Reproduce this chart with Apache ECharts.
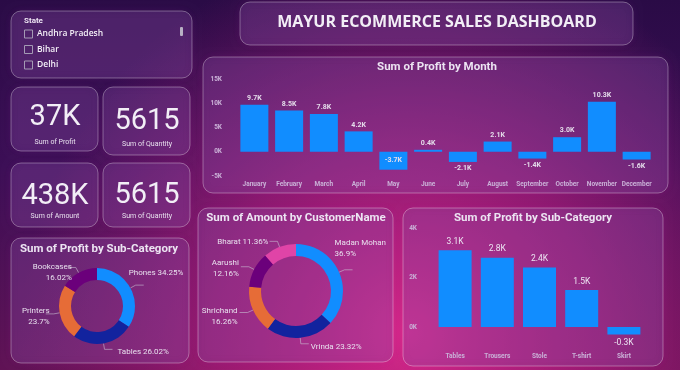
<!DOCTYPE html>
<html><head><meta charset="utf-8">
<script src="https://cdn.jsdelivr.net/npm/echarts@6/dist/echarts.min.js"></script>
<style>html,body{margin:0;padding:0;background:#2a0c46;}#c{width:680px;height:370px;}</style>
</head><body><div id="c"></div>
<script>
// ---- data ----
const months = ['January','February','March','April','May','June','July','August','September','October','November','December'];
const monthProfitK = [9.7, 8.5, 7.8, 4.2, -3.7, 0.4, -2.1, 2.1, -1.4, 3.0, 10.3, -1.6];
const monthAxisK = {min: -5, max: 15, interval: 5};
const subCats = ['Tables','Trousers','Stole','T-shirt','Skirt'];
const subCatProfitK = [3.1, 2.8, 2.4, 1.5, -0.3];
const subCatAxisK = {min: 0, max: 4, interval: 2};
const donutCats = ['Phones','Tables','Printers','Bookcases'];
const donutShares = [34.25, 26.02, 23.7, 16.02];
const customers = ['Madan Mohan','Vrinda','Shrichand','Aarushi','Bharat'];
const customerShares = [36.9, 23.32, 16.26, 12.16, 11.36];
const states = ['Andhra Pradesh','Bihar','Delhi'];
const kpiValues = ['37K','5615','438K','5615'];
const kpiLabels = ['Sum of Profit','Sum of Quantity','Sum of Amount','Sum of Quantity'];

// ---- styling ----
const palette = ['#118DFF','#12239E','#E66C37','#6B007B','#E044A7'];
const txt = '#ece4f2';
const FF = 'Roboto, "Noto Sans", sans-serif';
const panelStyle = {fill:'rgba(130,90,165,0.26)', stroke:'rgba(255,255,255,0.32)', lineWidth:1,
  shadowBlur:8, shadowColor:'rgba(200,60,200,0.35)'};
// label nudges (px) to mimic the reference's leader-line placement
const pie1Nudge = [[-20,-12],[0,3],[9,3],[9,5]];
const pie2Nudge = [[-23,-21],[-3,3],[3,3.5],[3,1.5],[4,1]];

function panel(x,y,w,h,r){ return {type:'rect', shape:{x:x,y:y,width:w,height:h,r:r||10}, style:Object.assign({},panelStyle), z:1}; }
function text(t,x,y,font,align,fill){ return {type:'text', z:5, style:{text:t,x:x,y:y,font:font,textAlign:align||'center',textVerticalAlign:'middle',fill:fill||txt}}; }

const chart = echarts.init(document.getElementById('c'), null, {renderer:'canvas'});

const graphics = [
  {type:'rect', z:-10, shape:{x:0,y:0,width:680,height:370}, style:{fill:new echarts.graphic.LinearGradient(0,0,0,1,[
    {offset:0,color:'#2a0b46'},{offset:0.45,color:'#3c0e56'},{offset:1,color:'#601255'}])}},
  {type:'rect', z:-9, shape:{x:0,y:0,width:680,height:370}, style:{fill:new echarts.graphic.RadialGradient(0.6,0.9,1.05,[
    {offset:0,color:'rgba(220,40,140,0.95)'},{offset:0.5,color:'rgba(190,30,128,0.6)'},{offset:1,color:'rgba(170,30,120,0)'}])}},
  panel(11,11,181,67),
  panel(240,2,393,43),
  panel(11,87,87,64), panel(103,87,87,68),
  panel(11,163,87,64), panel(103,163,87,64),
  panel(11,238,178,125),
  panel(203,57,465,136),
  panel(198,208,195,154),
  panel(403,208,260,158),
  text('State',24,21,'bold 8px '+FF,'left'),
  {type:'rect', z:5, shape:{x:180,y:27,width:3,height:9,r:1}, style:{fill:'#b8b0c4'}},
  text('MAYUR ECOMMERCE SALES DASHBOARD',437,22,'bold 16px "Open Sans", sans-serif','center','#f2eef6'),
  text('Sum of Profit by Month',437,67,'bold 11.5px '+FF),
  text('Sum of Amount by CustomerName',296,218,'bold 11.5px '+FF),
  text('Sum of Profit by Sub-Category',533,218,'bold 11.5px '+FF),
  text('Sum of Profit by Sub-Category',99,249,'bold 11.5px '+FF)
];
states.forEach(function(s,i){
  const yy = 34 + i*15.5;
  graphics.push({type:'rect', z:5, shape:{x:24.5,y:yy-4,width:8,height:8}, style:{fill:'none',stroke:'#a49ab4',lineWidth:1}});
  graphics.push(text(s,37,yy,'600 8.5px "Open Sans", sans-serif','left','#f4f0f8'));
});
const kpiPos = [[55,118,142],[147,122,144],[55,197,216],[147,196,216]];
kpiValues.forEach(function(v,i){
  const p = kpiPos[i];
  graphics.push(text(v,p[0],p[1],'29px '+FF,'center','#f2eef6'));
  graphics.push(text(kpiLabels[i],p[0],p[2],'7px '+FF,'center','#e8e0ee'));
});

const axisLabelStyle = {color:'#e4dcea', fontFamily:FF, fontWeight:'bold', fontSize:6.5};
const labelK = function(p){ return p.value.toFixed(1)+'K'; };
const pieLabel = {show:true, color:'#e8e0ee', fontFamily:FF, fontSize:8, lineHeight:11,
  formatter:function(p){ return p.name.length>6 ? p.name+'\n'+p.value+'%' : p.name+' '+p.value+'%'; }};
const pieLine = {show:true, length:6, length2:8, lineStyle:{color:'rgba(200,190,210,0.6)', width:1}};

const option = {
  animation:false,
  graphic: graphics,
  grid:[
    {left:237, top:79, width:417, height:97},
    {left:434, top:228, width:211, height:99}
  ],
  xAxis:[
    {gridIndex:0, type:'category', data:months, axisLine:{show:false,onZero:false}, axisTick:{show:false},
      axisLabel:Object.assign({margin:5, interval:0}, axisLabelStyle)},
    {gridIndex:1, type:'category', data:subCats, axisLine:{show:false,onZero:false}, axisTick:{show:false},
      axisLabel:Object.assign({margin:26, interval:0}, axisLabelStyle)}
  ],
  yAxis:[
    {gridIndex:0, type:'value', min:monthAxisK.min, max:monthAxisK.max, interval:monthAxisK.interval,
      splitLine:{show:false}, axisLine:{show:false}, axisTick:{show:false},
      axisLabel:Object.assign({margin:15, formatter:function(v){return v+'K';}}, axisLabelStyle)},
    {gridIndex:1, type:'value', min:subCatAxisK.min, max:subCatAxisK.max, interval:subCatAxisK.interval,
      splitLine:{show:false}, axisLine:{show:false}, axisTick:{show:false},
      axisLabel:Object.assign({margin:17, formatter:function(v){return v+'K';}}, axisLabelStyle)}
  ],
  series:[
    {type:'bar', xAxisIndex:0, yAxisIndex:0, barWidth:28, itemStyle:{color:palette[0]},
      data: monthProfitK.map(function(v){ return {value:v, label:{position: v<0 ? (v<-3?'inside':'bottom') : 'top'}}; }),
      label:{show:true, formatter:labelK, color:'#e4dcea', fontFamily:FF, fontWeight:'bold', fontSize:7, distance:3}},
    {type:'bar', xAxisIndex:1, yAxisIndex:1, barWidth:33, clip:false, itemStyle:{color:palette[0]},
      data: subCatProfitK.map(function(v){ return {value:v, label:{position: v<0 ? 'bottom':'top'}}; }),
      label:{show:true, formatter:labelK, color:'#ece4f2', fontFamily:FF, fontSize:8.5, distance:4}},
    {type:'pie', center:[97,306], radius:[26,38], startAngle:90, clockwise:true,
      data: donutCats.map(function(n,i){ return {name:n, value:donutShares[i], itemStyle:{color:palette[i]}}; }),
      label:pieLabel, labelLine:pieLine,
      labelLayout:function(p){ const d = pie1Nudge[p.dataIndex]; return {dx:d[0], dy:d[1]}; }},
    {type:'pie', center:[296,291], radius:[35,47], startAngle:90, clockwise:true,
      data: customers.map(function(n,i){ return {name:n, value:customerShares[i], itemStyle:{color:palette[i]}}; }),
      label:pieLabel, labelLine:pieLine,
      labelLayout:function(p){ const d = pie2Nudge[p.dataIndex]; return {dx:d[0], dy:d[1]}; }}
  ]
};
chart.setOption(option);
</script></body></html>
